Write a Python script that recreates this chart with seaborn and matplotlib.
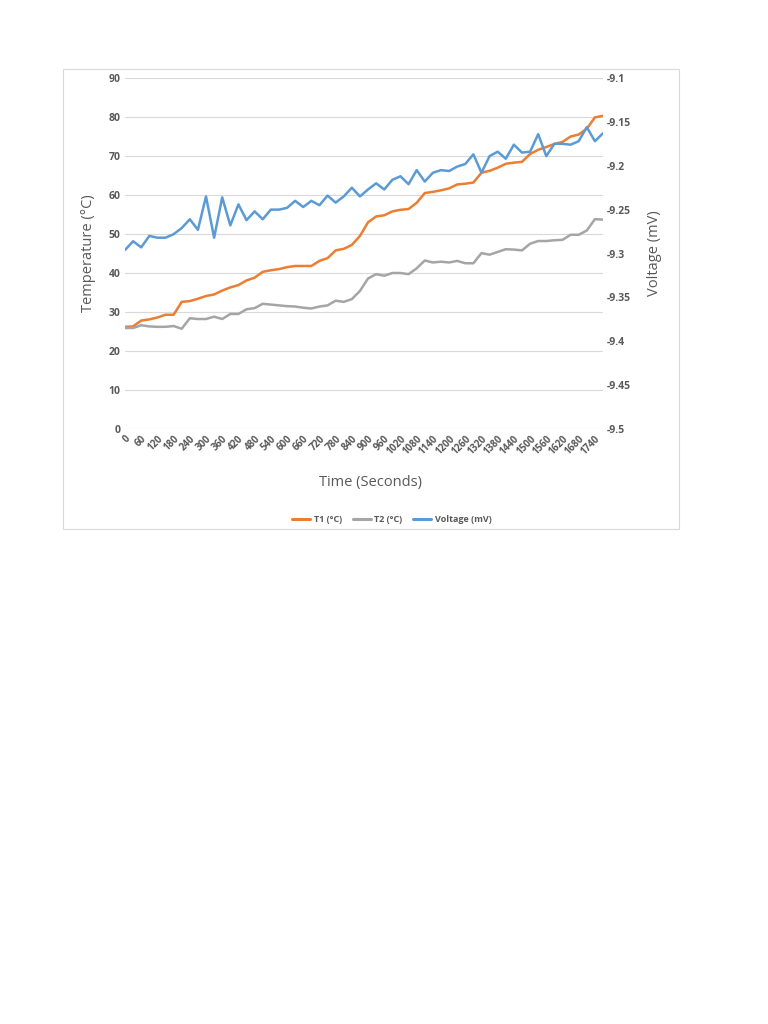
import numpy as np
import matplotlib
matplotlib.use("Agg")
import matplotlib.pyplot as plt
from matplotlib.patches import Rectangle
from matplotlib.lines import Line2D
import seaborn as sns

sns.set_style('white')
plt.rcParams['font.family'] = ['Open Sans', 'DejaVu Sans']

# Data, one reading every 30 s
time_s = list(range(0, 1771, 30))
t1 = [26.2, 26.3, 27.8, 28.1, 28.6, 29.3, 29.3, 32.6, 32.8, 33.4,
      34.1, 34.5, 35.5, 36.3, 36.9, 38.1, 38.8, 40.3, 40.7, 41.0,
      41.5, 41.8, 41.8, 41.8, 43.1, 43.8, 45.8, 46.2, 47.2, 49.5,
      53.0, 54.5, 54.8, 55.8, 56.2, 56.4, 58.0, 60.5, 60.8, 61.2,
      61.7, 62.7, 62.9, 63.2, 65.7, 66.2, 67.0, 68.0, 68.3, 68.5,
      70.5, 71.6, 72.3, 73.1, 73.6, 75.0, 75.5, 77.0, 79.9, 80.3]
t2 = [25.9, 25.9, 26.6, 26.3, 26.2, 26.2, 26.4, 25.7, 28.4, 28.2,
      28.2, 28.8, 28.2, 29.5, 29.5, 30.7, 31.0, 32.1, 31.9, 31.7,
      31.5, 31.4, 31.1, 30.9, 31.4, 31.7, 32.9, 32.6, 33.3, 35.4,
      38.6, 39.7, 39.3, 40.0, 40.0, 39.7, 41.2, 43.2, 42.7, 42.9,
      42.7, 43.1, 42.5, 42.5, 45.1, 44.7, 45.4, 46.1, 46.0, 45.8,
      47.5, 48.2, 48.2, 48.4, 48.5, 49.8, 49.8, 50.9, 53.8, 53.7]
voltage = [-9.296, -9.286, -9.293, -9.280, -9.282, -9.282, -9.278, -9.271, -9.261, -9.273,
           -9.235, -9.282, -9.236, -9.268, -9.244, -9.262, -9.252, -9.261, -9.250, -9.250,
           -9.248, -9.240, -9.247, -9.240, -9.245, -9.234, -9.242, -9.235, -9.225, -9.235,
           -9.227, -9.220, -9.227, -9.216, -9.212, -9.221, -9.205, -9.218, -9.208, -9.205,
           -9.206, -9.201, -9.198, -9.187, -9.208, -9.189, -9.184, -9.192, -9.176, -9.185,
           -9.184, -9.164, -9.189, -9.175, -9.175, -9.176, -9.172, -9.156, -9.172, -9.163]

x_ticks = list(range(0, 1741, 60))
temp_ticks = list(range(0, 91, 10))
volt_ticks = [-9.5, -9.45, -9.4, -9.35, -9.3, -9.25, -9.2, -9.15, -9.1]

c_t1 = '#ED7D31'
c_t2 = '#A5A5A5'
c_v = '#5B9BD5'
txt = '#595959'

fig = plt.figure(figsize=(7.68, 10.24), dpi=100)
fig.patches.append(Rectangle((63 / 768, 1 - 529 / 1024), 616 / 768, 460 / 1024,
                             transform=fig.transFigure, fill=False,
                             edgecolor='#d9d9d9', linewidth=0.8))

ax = fig.add_axes([125 / 768, 1 - 429 / 1024, 478 / 768, 351 / 1024])
sns.lineplot(x=time_s, y=t1, ax=ax, color=c_t1, linewidth=1.8, legend=False)
sns.lineplot(x=time_s, y=t2, ax=ax, color=c_t2, linewidth=1.8, legend=False)

ax2 = ax.twinx()
sns.lineplot(x=time_s, y=voltage, ax=ax2, color=c_v, linewidth=1.8, legend=False)

ax.set_xlim(0, 1770)
ax.set_ylim(0, 90)
ax.set_yticks(temp_ticks)
ax.set_xticks(x_ticks)
ax.set_xticklabels([str(v) for v in x_ticks], rotation=45, ha='right', va='top',
                   rotation_mode='anchor')
ax.grid(axis='y', color='#d9d9d9', linewidth=0.8)
ax.grid(axis='x', visible=False)
ax.set_axisbelow(True)

ax2.set_ylim(-9.5, -9.1)
ax2.set_yticks(volt_ticks)
ax2.set_yticklabels(['{:g}'.format(v) for v in volt_ticks])
ax2.grid(False)

for a in (ax, ax2):
    for s in a.spines.values():
        s.set_visible(False)
    a.tick_params(length=0, labelsize=7.5, labelcolor=txt)
    for lab in a.get_xticklabels() + a.get_yticklabels():
        lab.set_fontweight('bold')
ax.tick_params(axis='y', pad=3)
ax.tick_params(axis='x', labelsize=7, pad=3)
ax2.tick_params(axis='y', pad=3)

ax.set_xlabel('Time (Seconds)', fontsize=10.5, color=txt)
ax.xaxis.set_label_coords(0.513, -0.132)
ax.set_ylabel('Temperature (°C)', fontsize=10.5, color=txt)
ax.yaxis.set_label_coords(-0.061, 0.5)
ax2.set_ylabel('Voltage (mV)', fontsize=10.5, color=txt)
ax2.yaxis.set_label_coords(1.092, 0.5)

handles = [Line2D([], [], color=c_t1, linewidth=2.2),
           Line2D([], [], color=c_t2, linewidth=2.2),
           Line2D([], [], color=c_v, linewidth=2.2)]
leg = fig.legend(handles, ['T1 (°C)', 'T2 (°C)', 'Voltage (mV)'],
                 loc='center', bbox_to_anchor=(392 / 768, 1 - 520 / 1024),
                 ncol=3, frameon=False, fontsize=6.5, handlelength=2.0,
                 columnspacing=1.2, handletextpad=0.4)
for t in leg.get_texts():
    t.set_color(txt)
    t.set_fontweight('bold')

fig.savefig('out.png', dpi=100)
